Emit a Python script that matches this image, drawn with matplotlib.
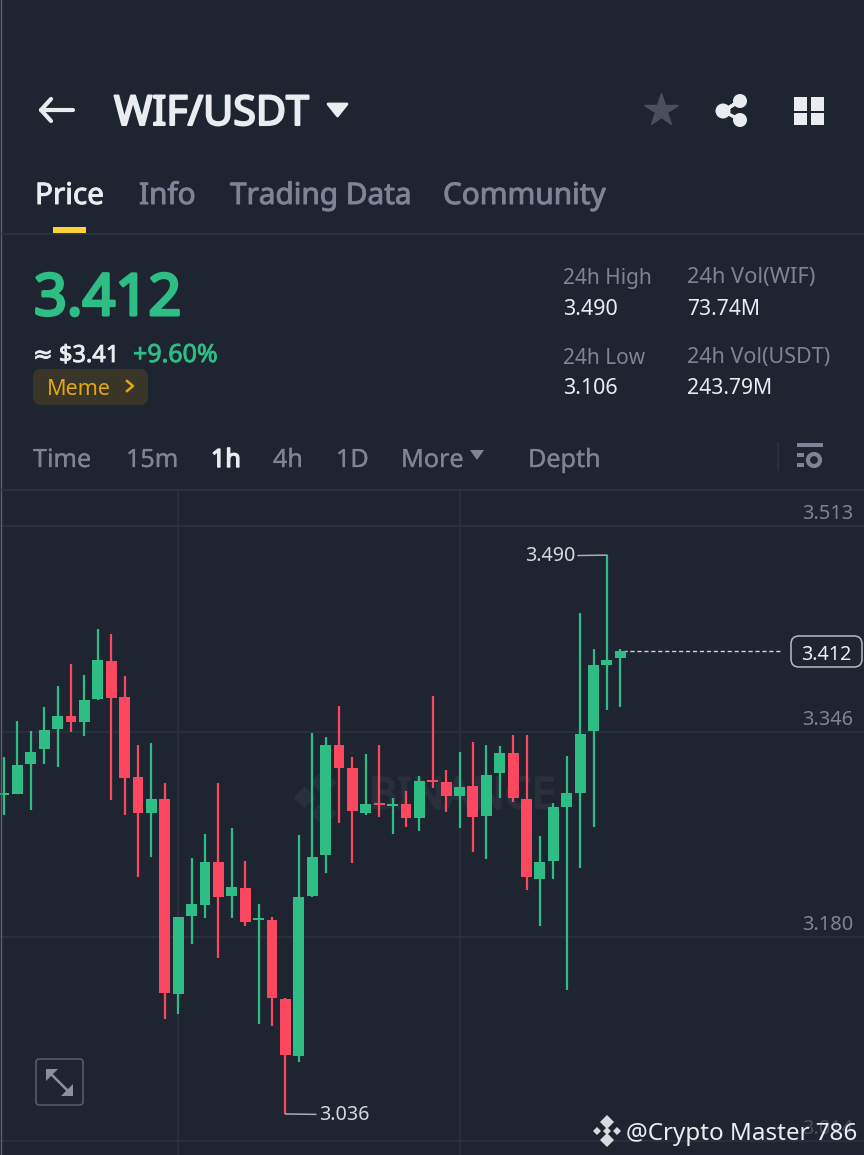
import matplotlib
matplotlib.use('Agg')
import matplotlib.pyplot as plt
import matplotlib.patheffects as pe
from matplotlib.patches import FancyBboxPatch, Rectangle, Circle, Polygon

plt.rcParams['font.family'] = ['Noto Sans', 'DejaVu Sans']

# hourly candles
opens = [3.2949, 3.2957, 3.3200, 3.3322, 3.3484, 3.3590, 3.3541, 3.3728, 3.4036, 3.3744, 3.3095, 3.2803,
         3.2917, 3.1335, 3.1968, 3.2057, 3.2406, 3.2130, 3.2195, 3.1935, 3.1935, 3.1295, 3.0832, 3.2130,
         3.2462, 3.3355, 3.3168, 3.2803, 3.2876, 3.2860, 3.2876, 3.2763, 3.3063, 3.3055, 3.2941, 3.3022,
         3.2779, 3.3128, 3.3290, 3.2917, 3.2268, 3.2414, 3.2852, 3.2965, 3.3468, 3.4003, 3.4060]
highs = [3.3257, 3.3549, 3.3468, 3.3663, 3.3833, 3.4011, 3.3922, 3.4295, 3.4255, 3.3914, 3.3355, 3.3371,
         3.3046, 3.1960, 3.2438, 3.2633, 3.3046, 3.2681, 3.2414, 3.2065, 3.1960, 3.1303, 3.2625, 3.3452,
         3.3419, 3.3671, 3.3257, 3.3282, 3.3355, 3.2925, 3.2982, 3.3103, 3.3752, 3.3152, 3.3298, 3.3379,
         3.3355, 3.3346, 3.3436, 3.3436, 3.2617, 3.2884, 3.3265, 3.4425, 3.4133, 3.4895, 3.4133]
lows = [3.2787, 3.2957, 3.2827, 3.3200, 3.3176, 3.3460, 3.3428, 3.3720, 3.2909, 3.2787, 3.2284, 3.2446,
        3.1132, 3.1173, 3.1741, 3.1952, 3.1627, 3.1952, 3.1887, 3.1092, 3.1076, 3.0362, 3.0784, 3.2122,
        3.2316, 3.2722, 3.2398, 3.2787, 3.2771, 3.2633, 3.2690, 3.2657, 3.3006, 3.2811, 3.2681, 3.2487,
        3.2430, 3.2925, 3.2892, 3.2179, 3.1887, 3.2268, 3.1368, 3.2357, 3.2690, 3.3638, 3.3663]
closes = [3.2957, 3.3192, 3.3298, 3.3476, 3.3590, 3.3541, 3.3720, 3.4044, 3.3736, 3.3087, 3.2803, 3.2917,
          3.1343, 3.1960, 3.2065, 3.2406, 3.2122, 3.2203, 3.1919, 3.1943, 3.1303, 3.0840, 3.2122, 3.2446,
          3.3355, 3.3168, 3.2819, 3.2876, 3.2868, 3.2868, 3.2763, 3.3063, 3.3055, 3.2941, 3.3014, 3.2771,
          3.3111, 3.3290, 3.2925, 3.2284, 3.2406, 3.2852, 3.2965, 3.3444, 3.4003, 3.4044, 3.4117]

# candles that closed down, a few dojis are too close to tell from the values
down_candles = [5, 8, 9, 10, 12, 16, 18, 20, 21, 25, 26, 28, 30, 32, 33, 35, 38, 39]

price_ticks = [3.513, 3.346, 3.180, 3.014]
price_labels = ['3.513', '3.346', '3.180', '3.014']
last_price = 3.412

tabs = ['Price', 'Info', 'Trading Data', 'Community']
intervals = ['Time', '15m', '1h', '4h', '1D', 'More', 'Depth']

BG = '#1F2530'
GRID = '#2D333F'
GREEN = '#2EBD85'
RED = '#FB4760'
GRAY = '#7C8596'
WHITE = '#EAECEF'
MARK = '#2A303B'


def heavy(color, w=0.7):
    # Noto Sans here has only the regular weight, so thicken with a stroke
    return [pe.withStroke(linewidth=w, foreground=color)]


fig = plt.figure(figsize=(8.64, 11.55), dpi=100, facecolor=BG)

# chart part, lower 665 pixels of the screen
ax = fig.add_axes([0, 0, 1, 665 / 1155], facecolor=BG)
ax.set_xlim(-0.2985, 64.18)
ax.set_ylim(3.0029, 3.5423)
for s in ax.spines.values():
    s.set_visible(False)
ax.set_yticks(price_ticks)
ax.set_xticks([13, 34])
ax.tick_params(length=0, labelleft=False, labelbottom=False)
ax.grid(True, color=GRID, lw=1.1)
ax.set_axisbelow(True)

# faint watermark behind candles
ax.text(0.535, 0.538, 'BINANCE', transform=ax.transAxes, color=MARK, fontsize=31, fontweight='bold',
        ha='center', va='center', zorder=1, path_effects=heavy(MARK, 1.5))
ax.plot([0.352], [0.538], transform=ax.transAxes, marker='D', ms=10, color=MARK, zorder=1)
ax.plot([0.374, 0.374], [0.515, 0.561], transform=ax.transAxes, ls='', marker='D', ms=12, color=MARK, zorder=1)

for i in range(len(opens)):
    col = RED if i in down_candles else GREEN
    ax.vlines(i, lows[i], highs[i], color=col, lw=1.6, zorder=3)
    bottom = min(opens[i], closes[i])
    height = max(abs(closes[i] - opens[i]), 0.0018)
    ax.bar(i, height, bottom=bottom, width=0.82, color=col, zorder=4)

for p, lab in zip(price_ticks, price_labels):
    ax.annotate(lab, (1, p), xycoords=('axes fraction', 'data'), xytext=(-8, 1.5), textcoords='offset points',
                ha='right', va='bottom', color='#464D5B' if lab == '3.014' else GRAY, fontsize=14.4,
                zorder=2)

# high / low callouts
ax.annotate('3.490', (45, 3.4895), xytext=(-23, -0.6), textcoords='offset points', ha='right', va='center',
            color='#D5D8DD', fontsize=14.2,
            arrowprops=dict(arrowstyle='-', color='#A8ADB6', lw=1.1, shrinkA=0, shrinkB=0))
ax.annotate('3.036', (21, 3.0362), xytext=(24, -0.6), textcoords='offset points', ha='left', va='center',
            color='#D5D8DD', fontsize=14.2,
            arrowprops=dict(arrowstyle='-', color='#A8ADB6', lw=1.1, shrinkA=0, shrinkB=0))

# last price line
ax.plot([46.2, 57.9], [last_price, last_price], color='#D0D3D8', lw=1, ls=(0, (3, 2)), zorder=3)

# everything else sits in a screen pixel overlay
ui = fig.add_axes([0, 0, 1, 1], facecolor='none')
ui.set_xlim(0, 864)
ui.set_ylim(1155, 0)
ui.axis('off')

ui.plot([0.5, 0.5], [0, 1155], color='#5A606B', lw=1)
ui.plot([0, 864], [234, 234], color=GRID, lw=1.2)
ui.plot([0, 864], [490, 490], color=GRID, lw=1.2)

# last price tag
ui.add_patch(FancyBboxPatch((794, 639), 65, 25, boxstyle='round,pad=3,rounding_size=8', fc=BG, ec='#B8BCC4', lw=1.1))
ui.text(826.5, 652, f'{last_price:.3f}', ha='center', va='center_baseline', color=WHITE, fontsize=14.2)

# header
ui.plot([41, 73], [110, 110], color=WHITE, lw=3, solid_capstyle='round')
ui.plot([51, 41, 51], [99, 110, 121], color=WHITE, lw=3, solid_capstyle='round', solid_joinstyle='round')
ui.text(114, 125, 'WIF/USDT', color=WHITE, fontsize=29.7, va='baseline', path_effects=heavy(WHITE, 1.5))
ui.add_patch(Polygon([[328, 104], [347, 104], [337.5, 116]], closed=True, fc=WHITE, ec=WHITE, lw=2, joinstyle='round'))
ui.plot([660.5], [110], marker='*', ms=25, color='#46505F', mec='#46505F')
ui.plot([723, 740, 723, 740], [111, 101, 111, 120], color=WHITE, lw=2.4)
ui.add_patch(Circle((723, 111), 7.5, fc=WHITE))
ui.add_patch(Circle((740, 101), 7, fc=WHITE))
ui.add_patch(Circle((740, 120), 7, fc=WHITE))
for gx, gy, gh in [(794, 97, 14), (811, 97, 14), (794, 113, 12), (811, 113, 12)]:
    ui.add_patch(Rectangle((gx, gy), 13, gh, fc=WHITE))

for t, x in zip(tabs, [35, 139, 230, 443]):
    is_on = t == 'Price'
    c = WHITE if is_on else GRAY
    ui.text(x, 204, t, color=c, fontsize=21.4, va='baseline', path_effects=heavy(c, 0.7))
ui.add_patch(Rectangle((53, 227), 33, 6, fc='#FCD535'))

# price block
ui.text(34, 315, '3.412', color=GREEN, fontsize=41.5, va='baseline', path_effects=heavy(GREEN, 2.2))
ui.text(33, 362, '≈ $3.41', color=WHITE, fontsize=17, va='baseline', path_effects=heavy(WHITE, 0.6))
ui.text(133, 362, '+9.60%', color=GREEN, fontsize=18, va='baseline', path_effects=heavy(GREEN, 0.6))
ui.add_patch(FancyBboxPatch((39, 375), 103, 24, boxstyle='round,pad=6,rounding_size=8', fc='#3A3529', ec='none'))
ui.text(47, 395, 'Meme', color='#E0A90F', fontsize=15.5, va='baseline')
ui.plot([127, 133, 127], [381, 386, 391], color='#E0A90F', lw=1.8)

ui.text(563, 284, '24h High', color=GRAY, fontsize=15, va='baseline')
ui.text(563, 315, '3.490', color=WHITE, fontsize=15.5, va='baseline')
ui.text(563, 364, '24h Low', color=GRAY, fontsize=15, va='baseline')
ui.text(563, 394, '3.106', color=WHITE, fontsize=15.5, va='baseline')
ui.text(687, 283, '24h Vol(WIF)', color=GRAY, fontsize=15.7, va='baseline')
ui.text(687, 315, '73.74M', color=WHITE, fontsize=15.2, va='baseline')
ui.text(687, 363, '24h Vol(USDT)', color=GRAY, fontsize=15.5, va='baseline')
ui.text(687, 394, '243.79M', color=WHITE, fontsize=15.2, va='baseline')

# interval row
for t, x in zip(intervals, [33, 126, 211, 273, 336, 401, 528]):
    c = WHITE if t == '1h' else GRAY
    ui.text(x, 467, t, color=c, fontsize=18.1, va='baseline', path_effects=heavy(c, 1.0 if t == '1h' else 0.2))
ui.add_patch(Polygon([[470, 450], [484, 450], [477, 460]], closed=True, fc=GRAY))
ui.plot([778, 778], [443, 470], color=GRID, lw=1.2)
ui.add_patch(Rectangle((797, 443), 26, 4, fc=GRAY))
ui.add_patch(Rectangle((797, 453), 7, 4, fc=GRAY))
ui.add_patch(Rectangle((797, 463), 7, 4, fc=GRAY))
ui.add_patch(Circle((814, 460), 6, fc='none', ec=GRAY, lw=3))

# expand button
ui.add_patch(FancyBboxPatch((37, 1060), 45, 44, boxstyle='round,pad=1,rounding_size=3', fc=BG, ec='#59606C', lw=1.1))
ui.plot([48, 71], [1071, 1094], color='#8A919E', lw=1.8)
ui.add_patch(Polygon([[46, 1069], [58, 1069], [46, 1081]], closed=True, fc='#8A919E'))
ui.add_patch(Polygon([[73, 1096], [61, 1096], [73, 1084]], closed=True, fc='#8A919E'))

# share watermark
for lx, ly, ms in [(607, 1122, 7), (607, 1140, 7), (597, 1131, 4.5), (617, 1131, 4.5)]:
    ui.plot([lx], [ly], marker='D', ms=ms, color='#D8DADE', mew=0)
ui.plot([607], [1131], marker='D', ms=4, color='#D8DADE', mew=0)
ui.text(626, 1140, '@Crypto Master 786', color=WHITE, fontsize=17.4, va='baseline')

fig.savefig('out.png', dpi=100, facecolor=BG)
